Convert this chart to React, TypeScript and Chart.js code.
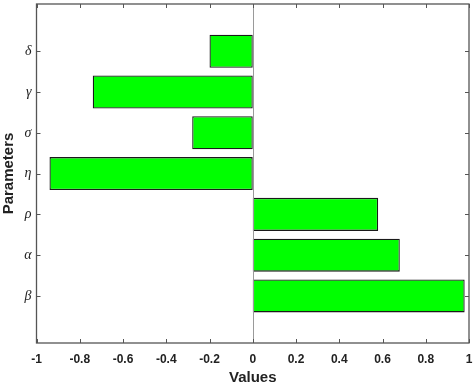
import React, { useEffect, useRef } from "react";
import { Chart, registerables } from "chart.js";

Chart.register(...registerables);

const categories = ["β", "α", "ρ", "η", "σ", "γ", "δ"];
const values = [0.98, 0.68, 0.58, -0.94, -0.28, -0.74, -0.2];
const xTicks = [-1, -0.8, -0.6, -0.4, -0.2, 0, 0.2, 0.4, 0.6, 0.8, 1];

const boxPlugin = {
  id: "matlabBox",
  afterDatasetsDraw(chart: any) {
    const { ctx, chartArea: a, scales } = chart;
    const x = scales.x;
    const y = scales.y;
    ctx.save();
    // baseline at zero
    const x0 = Math.round(x.getPixelForValue(0)) + 0.5;
    ctx.strokeStyle = "#9a9a9a";
    ctx.lineWidth = 1;
    ctx.beginPath();
    ctx.moveTo(x0, a.top);
    ctx.lineTo(x0, a.bottom);
    ctx.stroke();
    // box
    ctx.strokeStyle = "#555555";
    ctx.lineWidth = 1.3;
    ctx.strokeRect(a.left, a.top, a.right - a.left, a.bottom - a.top);
    // inward ticks
    ctx.lineWidth = 1;
    ctx.beginPath();
    const tl = 4;
    xTicks.forEach((v) => {
      const px = Math.round(x.getPixelForValue(v)) + 0.5;
      ctx.moveTo(px, a.bottom);
      ctx.lineTo(px, a.bottom - tl);
      ctx.moveTo(px, a.top);
      ctx.lineTo(px, a.top + tl);
    });
    categories.forEach((_, i) => {
      const py = Math.round(y.getPixelForValue(i + 1)) + 0.5;
      ctx.moveTo(a.left, py);
      ctx.lineTo(a.left + tl, py);
      ctx.moveTo(a.right, py);
      ctx.lineTo(a.right - tl, py);
    });
    ctx.stroke();
    ctx.restore();
  },
};

export default function App() {
  const ref = useRef<HTMLCanvasElement | null>(null);
  useEffect(() => {
    document.body.style.margin = "0";
    const chart = new Chart(ref.current as HTMLCanvasElement, {
      type: "bar",
      data: {
        datasets: [
          {
            data: values.map((v, i) => ({ x: v, y: i + 1 })),
            backgroundColor: "#00ff00",
            borderColor: "#1a1a1a",
            borderWidth: 1.3,
            borderSkipped: false,
            barPercentage: 0.9,
            categoryPercentage: 0.9,
          },
        ],
      },
      options: {
        indexAxis: "y",
        animation: false,
        responsive: false,
        maintainAspectRatio: false,
        layout: { padding: { top: 4, right: 5, left: 0, bottom: 0 } },
        plugins: { legend: { display: false }, tooltip: { enabled: false } },
        scales: {
          x: {
            type: "linear",
            min: -1,
            max: 1,
            offset: false,
            afterBuildTicks: (s: any) => {
              s.ticks = xTicks.map((v) => ({ value: v }));
            },
            afterFit: (s: any) => {
              s.height = 44;
              s.paddingLeft = 0;
              s.paddingRight = 0;
            },
            grid: { display: false, drawTicks: false },
            border: { display: false },
            ticks: {
              padding: 9,
              color: "#222222",
              font: { family: "Liberation Sans", weight: "bold", size: 12 },
              callback: (v: any) => String(v),
            },
            title: {
              display: true,
              text: "Values",
              color: "#222222",
              padding: 0,
              font: { family: "Liberation Sans", weight: "bold", size: 15 },
            },
          },
          y: {
            type: "linear",
            min: -0.155,
            max: 8.16,
            offset: false,
            afterBuildTicks: (s: any) => {
              s.ticks = categories.map((_, i) => ({ value: i + 1 }));
            },
            afterFit: (s: any) => {
              s.width = 36.5;
              s.paddingTop = 0;
              s.paddingBottom = 0;
            },
            grid: { display: false, drawTicks: false },
            border: { display: false },
            ticks: {
              padding: 5,
              color: "#222222",
              font: { family: "Liberation Serif", style: "italic", size: 14 },
              callback: (v: any) => categories[Math.round(v) - 1] ?? "",
            },
            title: {
              display: true,
              text: "Parameters",
              color: "#222222",
              padding: 0,
              font: { family: "Liberation Sans", weight: "bold", size: 15 },
            },
          },
        },
      } as any,
      plugins: [boxPlugin],
    });
    return () => chart.destroy();
  }, []);
  return <canvas ref={ref} width={474} height={387} style={{ display: "block" }} />;
}
